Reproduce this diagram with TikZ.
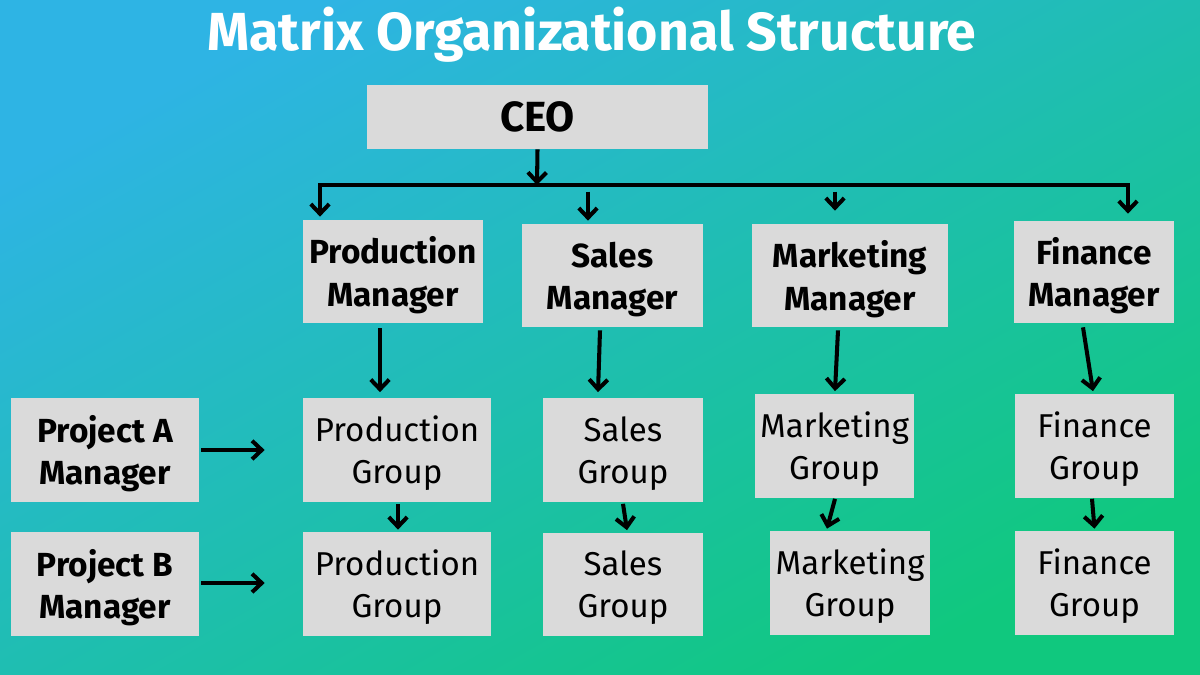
\documentclass[tikz,border=0pt]{standalone}
\usepackage{fontspec}
\setmainfont{Fira Sans}
\usetikzlibrary{arrows.meta,calc}
\definecolor{bgblue}{RGB}{46,180,228}
\definecolor{bggreen}{RGB}{16,200,126}
\definecolor{boxgray}{RGB}{218,218,218}
\tikzset{
  box/.style 2 args={rectangle,fill=boxgray,inner sep=0pt,align=center,text depth=0pt,
    minimum width=#1*0.02cm,minimum height=#2*0.02cm},
  head/.style={font=\fontsize{19}{24}\selectfont\bfseries},
  team/.style={font=\fontsize{18.8}{24}\selectfont},
  link/.style={line width=2.3pt},
  arr/.style={link,-{Straight Barb[length=5.5pt,width=10.5pt]}}
}
\begin{document}
\begin{tikzpicture}[x=0.02cm,y=-0.02cm]
  \shade[top color=bgblue,bottom color=bggreen,shading angle=29.4] (0,0) rectangle (1200,675);
  \useasboundingbox (0,0) rectangle (1200,675);
  \node[text=white,anchor=base,font=\fontsize{30.5}{34}\selectfont\bfseries] (title) at (592,51) {Matrix Organizational Structure};
  \node[box={341}{64},font=\fontsize{24}{28}\selectfont\bfseries] (ceo) at (537.5,117) {CEO};
  \node[box={180}{103},head] (pm) at (393,271.5) {Production\\Manager};
  \node[box={181}{103},head] (sm) at (612.5,275.5) {Sales\\Manager};
  \node[box={196}{103},head] (mm) at (850,275.5) {Marketing\\Manager};
  \node[box={160}{102},head] (fm) at (1094,272) {Finance\\Manager};
  \node[box={188}{103},team] (pg1) at (397,450) {Production\\Group};
  \node[box={160}{103},team] (sg1) at (623,450) {Sales\\Group};
  \node[box={159}{103},team] (mg1) at (834.5,446) {Marketing\\Group};
  \node[box={159}{103},team] (fg1) at (1094.5,446) {Finance\\Group};
  \node[box={188}{104},team] (pg2) at (397,584) {Production\\Group};
  \node[box={160}{103},team] (sg2) at (623,584) {Sales\\Group};
  \node[box={160}{104},team] (mg2) at (850,583) {Marketing\\Group};
  \node[box={159}{104},team] (fg2) at (1094.5,583) {Finance\\Group};
  \node[box={188}{104},head] (pa) at (105,450) {Project A\\Manager};
  \node[box={188}{104},head] (pb) at (105,584) {Project B\\Manager};
  \coordinate (bar) at (537,185);
  \coordinate (barl) at (320,185);
  \coordinate (barr) at (1128,185);
  \draw[arr] (ceo.south) -- (bar);
  \draw[link,line cap=rect] (barl) -- (barr);
  \draw[arr] (barl) -- ($(pm.north)+(-73,-3)$);
  \draw[arr] ($(sm.north)+(-24.5,-32)$) -- ($(sm.north)+(-24.5,-3)$);
  \draw[arr] ($(mm.north)+(-15,-32)$) -- ($(mm.north)+(-15,-13)$);
  \draw[arr] (barr) -- ($(fm.north)+(34,-7)$);
  \draw[arr] ($(pm.south)+(-13,5)$) -- ($(pg1.north)+(-17,-6)$);
  \draw[arr] ($(sm.south)+(-12.5,3)$) -- ($(sg1.north)+(-25,-6)$);
  \draw[arr] ($(mm.south)+(-12,3)$) -- ($(mg1.north)+(0.5,-3)$);
  \draw[arr] ($(fm.south)+(-11,4)$) -- ($(fg1.north)+(-1.5,-3)$);
  \draw[arr] ($(pg1.south)+(1,2)$) -- ($(pg2.north)+(1,-2)$);
  \draw[arr] ($(sg1.south)+(0,2)$) -- ($(sg2.north)+(4,-2)$);
  \draw[arr] ($(mg1.south)+(0.5,1)$) -- ($(mg2.north)+(-23,-2)$);
  \draw[arr] ($(fg1.south)+(-2.5,1)$) -- ($(fg2.north)+(0,-2)$);
  \draw[arr] ($(pa.east)+(2,0)$) -- ($(pg1.west)+(-38,0)$);
  \draw[arr] ($(pb.east)+(2,-1)$) -- ($(pg2.west)+(-38,-1)$);
\end{tikzpicture}
\end{document}
